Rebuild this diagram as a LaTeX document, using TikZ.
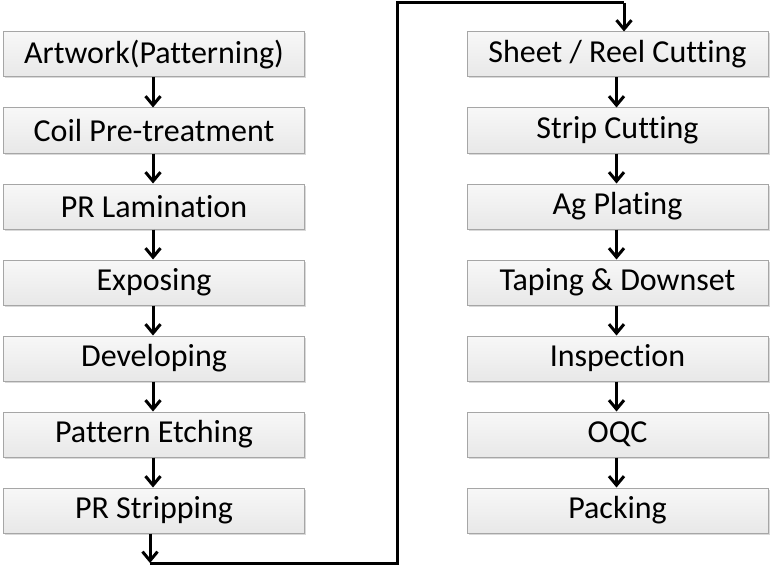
\documentclass[tikz,border=0pt]{standalone}
\usepackage{fontspec}
\setmainfont{Carlito}[Ligatures=NoCommon]
\usetikzlibrary{arrows.meta,shadows,calc}
\begin{document}
\begin{tikzpicture}[x=1pt,y=-1pt,
  stepbox/.style={draw=black!35, line width=1pt, top color=black!3, bottom color=black!9,
    minimum width=301pt, minimum height=45pt, inner sep=0pt,
    drop shadow={shadow xshift=1.5pt, shadow yshift=-1.5pt, fill=black!25, opacity=0.6},
    font=\fontsize{32}{36}\selectfont},
  flow/.style={line width=3pt, -{Straight Barb[length=9pt,width=15pt,line width=3pt]}},
  link/.style={line width=3pt}]
\useasboundingbox (0,0) rectangle (772,578);
% left column
\node[stepbox] (l1) at (154,54.5) {\raisebox{-2pt}{Artwork(Patterning)}};
\node[stepbox] (l2) at (154,130.5) {\raisebox{-2pt}{Coil Pre-treatment}};
\node[stepbox] (l3) at (154,206.5) {\raisebox{-2pt}{PR Lamination}};
\node[stepbox] (l4) at (154,282.5) {\raisebox{-2pt}{Exposing}};
\node[stepbox] (l5) at (154,358.5) {\raisebox{-2pt}{Developing}};
\node[stepbox] (l6) at (154,434.5) {\raisebox{-2pt}{Pattern Etching}};
\node[stepbox] (l7) at (154,510.5) {\raisebox{-2pt}{PR Stripping}};
% right column
\node[stepbox] (r1) at (617.5,54.5) {\raisebox{-2pt}{Sheet / Reel Cutting}};
\node[stepbox] (r2) at (617.5,130.5) {\raisebox{-2pt}{Strip Cutting}};
\node[stepbox] (r3) at (617.5,206.5) {\raisebox{-2pt}{Ag Plating}};
\node[stepbox] (r4) at (617.5,282.5) {\raisebox{-2pt}{Taping \& Downset}};
\node[stepbox] (r5) at (617.5,358.5) {\raisebox{-2pt}{Inspection}};
\node[stepbox] (r6) at (617.5,434.5) {\raisebox{-2pt}{OQC}};
\node[stepbox] (r7) at (617.5,510.5) {\raisebox{-2pt}{Packing}};
% arrows
\foreach \a/\b in {l1/l2,l2/l3,l3/l4,l4/l5,l5/l6,l6/l7,r1/r2,r2/r3,r3/r4,r4/r5,r5/r6,r6/r7}
  \draw[flow] ($(\a.south)+(-1,0)$) -- ($(\b.north)+(-1,0)$);
\coordinate (c1) at (150,563);
\coordinate (c2) at (397,563);
\coordinate (c3) at (397,3);
\coordinate (c4) at (624,3);
\draw[flow] ($(l7.south)+(-4,0)$) -- (c1);
\draw[link] (c1) -- (c2) -- (c3) -- (c4);
\draw[flow] (c4) -- (c4 |- r1.north);
\end{tikzpicture}
\end{document}
